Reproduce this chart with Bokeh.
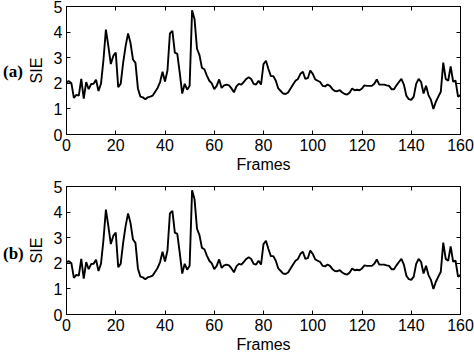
from bokeh.plotting import figure
from bokeh.layouts import column, row
from bokeh.models import LinearAxis, FixedTicker, Range1d, Div
from bokeh.embed import file_html
from bokeh.resources import INLINE

frames = list(range(161))
sie_a = [2.05, 2.08, 2.0, 1.43, 1.55, 1.52, 2.17, 1.4, 2.05, 1.77,
         1.97, 1.98, 2.14, 1.7, 1.98, 2.9, 4.1, 3.45, 2.75, 3.07,
         3.2, 1.85, 1.98, 2.8, 3.45, 3.95, 3.57, 2.93, 2.8, 1.8,
         1.48, 1.45, 1.38, 1.45, 1.48, 1.52, 1.67, 1.82, 2.05, 2.45,
         2.07, 2.5, 3.95, 4.05, 3.2, 3.15, 2.4, 1.6, 1.98, 1.75,
         1.9, 4.85, 4.5, 3.35, 3.1, 2.6, 2.55, 2.3, 2.1, 2.0,
         1.77, 1.9, 2.15, 1.82, 1.92, 1.95, 1.92, 1.8, 1.65, 1.88,
         1.98, 1.95, 2.05, 2.17, 2.24, 2.17, 1.98, 1.95, 2.1, 1.95,
         2.75, 2.88, 2.56, 2.28, 2.28, 2.1, 1.8, 1.7, 1.6, 1.58,
         1.64, 1.8, 1.95, 2.1, 2.17, 2.37, 2.45, 2.17, 2.2, 2.5,
         2.37, 2.15, 2.1, 2.05, 1.9, 1.88, 1.95, 1.9, 1.77, 1.7,
         1.69, 1.73, 1.64, 1.58, 1.56, 1.64, 1.8, 1.73, 1.75, 1.73,
         1.8, 1.92, 1.9, 1.9, 1.9, 1.98, 2.15, 1.95, 1.95, 1.95,
         1.92, 1.9, 1.77, 1.77, 1.92, 2.05, 2.17, 1.95, 1.52, 1.38,
         1.35, 1.48, 1.98, 2.17, 2.05, 1.6, 1.9, 1.54, 1.35, 1.0,
         1.28, 1.48, 1.67, 2.81, 2.17, 2.1, 2.66, 2.07, 2.1, 1.48,
         1.54]
sie_b = [2.05, 2.08, 2.0, 1.43, 1.55, 1.52, 2.17, 1.4, 2.05, 1.77,
         1.97, 1.98, 2.14, 1.7, 1.98, 2.9, 4.1, 3.45, 2.75, 3.07,
         3.2, 1.85, 1.98, 2.8, 3.45, 3.95, 3.57, 2.93, 2.8, 1.8,
         1.48, 1.45, 1.38, 1.45, 1.48, 1.52, 1.67, 1.82, 2.05, 2.45,
         2.07, 2.5, 3.95, 4.05, 3.2, 3.15, 2.4, 1.6, 1.98, 1.75,
         1.9, 4.85, 4.5, 3.35, 3.1, 2.6, 2.55, 2.3, 2.1, 2.0,
         1.77, 1.9, 2.15, 1.82, 1.92, 1.95, 1.92, 1.8, 1.65, 1.88,
         1.98, 1.95, 2.05, 2.17, 2.24, 2.17, 1.98, 1.95, 2.1, 1.95,
         2.75, 2.88, 2.56, 2.28, 2.28, 2.1, 1.8, 1.7, 1.6, 1.58,
         1.64, 1.8, 1.95, 2.1, 2.17, 2.37, 2.45, 2.17, 2.2, 2.5,
         2.37, 2.15, 2.1, 2.05, 1.9, 1.88, 1.95, 1.9, 1.77, 1.7,
         1.69, 1.73, 1.64, 1.58, 1.56, 1.64, 1.8, 1.73, 1.75, 1.73,
         1.8, 1.92, 1.9, 1.9, 1.9, 1.98, 2.15, 1.95, 1.95, 1.95,
         1.92, 1.9, 1.77, 1.77, 1.92, 2.05, 2.17, 1.95, 1.52, 1.38,
         1.35, 1.48, 1.98, 2.17, 2.05, 1.6, 1.9, 1.54, 1.35, 1.0,
         1.28, 1.48, 1.67, 2.81, 2.17, 2.1, 2.66, 2.07, 2.1, 1.48,
         1.54]
x_ticks = [0, 20, 40, 60, 80, 100, 120, 140, 160]
y_ticks = [0, 1, 2, 3, 4, 5]
panel_tags = ["(a)", "(b)"]

FONT = "Liberation Sans"


def style_axis(ax, ticks, show_labels=True):
    ax.ticker = FixedTicker(ticks=ticks)
    ax.major_tick_in = 4
    ax.major_tick_out = 0
    ax.minor_tick_line_color = None
    ax.axis_line_color = "black"
    ax.axis_line_width = 1
    ax.major_tick_line_color = "black"
    ax.major_label_text_font = FONT
    ax.major_label_text_color = "black"
    ax.major_label_text_font_size = "16px"
    if not show_labels:
        ax.major_label_overrides = {t: "" for t in ticks}
        ax.major_label_standoff = 0


def make_panel(sie, height, top_b, bottom_b):
    p = figure(width=450, height=height,
               x_range=Range1d(0, 160), y_range=Range1d(0, 5),
               output_backend="svg", toolbar_location=None,
               min_border_left=39, min_border_right=14,
               min_border_top=top_b, min_border_bottom=bottom_b,
               margin=0)
    p.background_fill_color = "white"
    p.border_fill_color = "white"
    p.outline_line_color = "black"
    p.xgrid.visible = False
    p.ygrid.visible = False
    p.line(frames, sie, line_color="black", line_width=1.9)

    style_axis(p.xaxis[0], x_ticks)
    style_axis(p.yaxis[0], y_ticks)
    p.xaxis[0].major_label_standoff = 4
    p.yaxis[0].major_label_standoff = 4
    p.xaxis[0].axis_label = "Frames"
    p.yaxis[0].axis_label = "SIE"
    for ax in (p.xaxis[0], p.yaxis[0]):
        ax.axis_label_text_font = FONT
        ax.axis_label_text_font_style = "normal"
        ax.axis_label_text_font_size = "16px"
        ax.axis_label_text_color = "black"
    p.xaxis[0].axis_label_standoff = 2
    p.yaxis[0].axis_label_standoff = 6

    top = LinearAxis()
    style_axis(top, x_ticks, show_labels=False)
    p.add_layout(top, "above")
    right = LinearAxis()
    style_axis(right, y_ticks, show_labels=False)
    p.add_layout(right, "right")
    return p


def make_tag(tag, height, pad_top):
    return Div(text=tag, width=24, height=height, margin=0,
               styles={"font-family": "Liberation Serif",
                       "font-weight": "bold", "font-size": "17px",
                       "line-height": "20px", "color": "black",
                       "padding-top": f"{pad_top}px", "padding-left": "3px",
                       "box-sizing": "border-box"})


p1 = make_panel(sie_a, 180, 6, 46)
p2 = make_panel(sie_b, 176, 6, 42)
layout = column(row(make_tag(panel_tags[0], 180, 62), p1, spacing=0),
                row(make_tag(panel_tags[1], 176, 64), p2, spacing=0),
                spacing=0)

open("out.html", "w").write(file_html(layout, INLINE))
